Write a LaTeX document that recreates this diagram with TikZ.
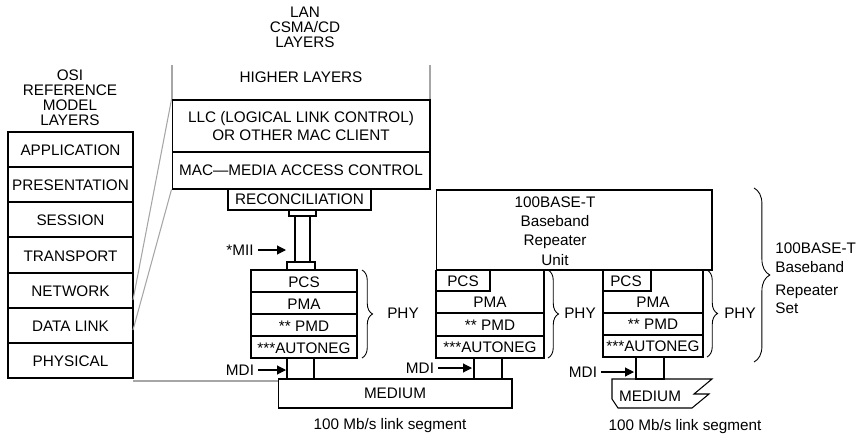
\documentclass[tikz,border=0pt]{standalone}
\usepackage{fontspec}
\setmainfont{Liberation Sans}
\usetikzlibrary{decorations.pathreplacing,arrows.meta}
\begin{document}
\begin{tikzpicture}[x=0.02cm,y=-0.02cm,
  every node/.style={font=\fontsize{8.7}{10}\selectfont},
  box/.style={draw,line width=0.6pt,inner sep=0},
  lbl/.style={align=center,inner sep=0},
  arr/.style={-{Triangle[length=5pt,width=5pt]},line width=0.6pt},
  gr/.style={draw=gray!70,line width=0.6pt},
  br/.style={decorate,decoration={brace,amplitude=6pt},line width=0.5pt}]
\useasboundingbox (0,0) rectangle (865,443);
% OSI
\node[lbl] (osih) at (70,98) {OSI\\[-1.5pt]REFERENCE\\[-1.5pt]MODEL\\[-1.5pt]LAYERS};
\foreach \t/\a/\b [count=\i] in {APPLICATION/132/167,PRESENTATION/167/202,SESSION/202/237,TRANSPORT/237/273,NETWORK/273/308,DATA LINK/308/343,PHYSICAL/343/378}
  {\draw[line width=0.6pt] (8,\a) rectangle (133,\b);
   \node[lbl] (osi\i) at (70.5,{(\a+\b)/2+1}) {\t};}
% LAN header
\node[lbl] (lanh) at (305,27) {LAN\\[-1.5pt]CSMA/CD\\[-1.5pt]LAYERS};
\draw[gr] (172,65) -- (172,100);
\draw[gr] (430,65) -- (430,100);
\node[lbl] (hl) at (301,77) {HIGHER LAYERS};
\node[box,minimum width=5.16cm,minimum height=1.04cm,lbl] (llc) at (301,126) {LLC (LOGICAL LINK CONTROL)\\OR OTHER MAC CLIENT};
\node[box,minimum width=5.16cm,minimum height=0.74cm] (mac) at (301,170.5) {MAC---MEDIA ACCESS CONTROL};
\node[box,minimum width=2.86cm,minimum height=0.42cm] (rec) at (299.5,199.5) {RECONCILIATION};
\draw[gr] (llc.north west) -- (133,300);
\draw[gr] (mac.south west) -- (133,330);
\draw[gr] (133,381) -- (278,381);
% MII
\draw[line width=0.6pt] (289,210) rectangle (316,216);
\draw[line width=0.6pt] (295,216) -- (295,262) (310,216) -- (310,262);
\draw[line width=0.6pt] (287,262) rectangle (315,270);
\node[lbl] (mii) at (240,250) {*MII};
\coordinate (miit) at (286,250);
\draw[arr] (mii.east)+(4,0) -- (miit);
% PHY stack 1
\foreach \t/\a/\b [count=\i] in {PCS/270/292,PMA/292/314,** PMD/314/336,***AUTONEG/336/358}
  {\draw[line width=0.6pt] (251,\a) rectangle (357,\b);
   \node[lbl] (s1r\i) at (304,{(\a+\b)/2+1}) {\t};}
\draw[br] (362,270) -- (362,358);
\node[lbl] (phy1) at (403,313) {PHY};
\draw[line width=0.6pt] (287,358) rectangle (314,379);
\node[lbl] (mdi1) at (240,370) {MDI};
\coordinate (mdi1t) at (286,370);
\draw[arr] (mdi1.east)+(4,0) -- (mdi1t);
\node[box,minimum width=4.68cm,minimum height=0.58cm] (med1) at (395,393.5) {MEDIUM};
\node[lbl] (seg1) at (390,426) {100 Mb/s link segment};
% Repeater unit
\node[box,minimum width=5.52cm,minimum height=1.6cm] (ru) at (574,230) {};
\node[lbl] (rut) at (555,231) {100BASE-T\\[1pt]Baseband\\[1pt]Repeater\\[1pt]Unit};
% stack 2
\draw[line width=0.6pt] (436,270) -- (436,358) -- (544,358) -- (544,270);
\draw[line width=0.6pt] (436,291) -- (490,291) -- (490,270);
\draw[line width=0.6pt] (436,313) -- (544,313) (436,336) -- (544,336);
\node[lbl] (s2pcs) at (463,281) {PCS};
\node[lbl] (s2pma) at (490,302) {PMA};
\node[lbl] (s2pmd) at (490,325) {** PMD};
\node[lbl] (s2an) at (490,347.5) {***AUTONEG};
\draw[br] (548,270) -- (548,358);
\node[lbl] (phy2) at (580,313) {PHY};
\draw[line width=0.6pt] (474,358) rectangle (502,379);
\node[lbl] (mdi2) at (420,368) {MDI};
\coordinate (mdi2t) at (472,368);
\draw[arr] (mdi2.east)+(4,0) -- (mdi2t);
% stack 3
\draw[line width=0.6pt] (603,270) -- (603,357) -- (703,357) -- (703,270);
\draw[line width=0.6pt] (603,291) -- (651,291) -- (651,270);
\draw[line width=0.6pt] (603,313) -- (703,313) (603,335) -- (703,335);
\node[lbl] (s3pcs) at (626,281) {PCS};
\node[lbl] (s3pma) at (653,302) {PMA};
\node[lbl] (s3pmd) at (653,324.5) {** PMD};
\node[lbl] (s3an) at (653,346.5) {***AUTONEG};
\draw[br] (707,270) -- (707,357);
\node[lbl] (phy3) at (740,313) {PHY};
\draw[line width=0.6pt] (636,357) rectangle (664,379);
\node[lbl] (mdi3) at (583,372) {MDI};
\coordinate (mdi3t) at (634,372);
\draw[arr] (mdi3.east)+(4,0) -- (mdi3t);
\draw[line width=0.6pt] (612,379) -- (712,379) -- (694,394) -- (709,394) -- (692,408) -- (618,408) -- (612,399) -- cycle;
\node[lbl] (med2) at (650,396) {MEDIUM};
\node[lbl] (seg2) at (685,427) {100 Mb/s link segment};
% big brace
\draw[decorate,decoration={brace,amplitude=9pt},line width=0.5pt] (754,188) -- (754,362);
\node[lbl,align=left,anchor=west] (rset) at (775,278) {100BASE-T\\[1pt]Baseband\\[3pt]Repeater\\[0pt]Set};
\end{tikzpicture}
\end{document}
